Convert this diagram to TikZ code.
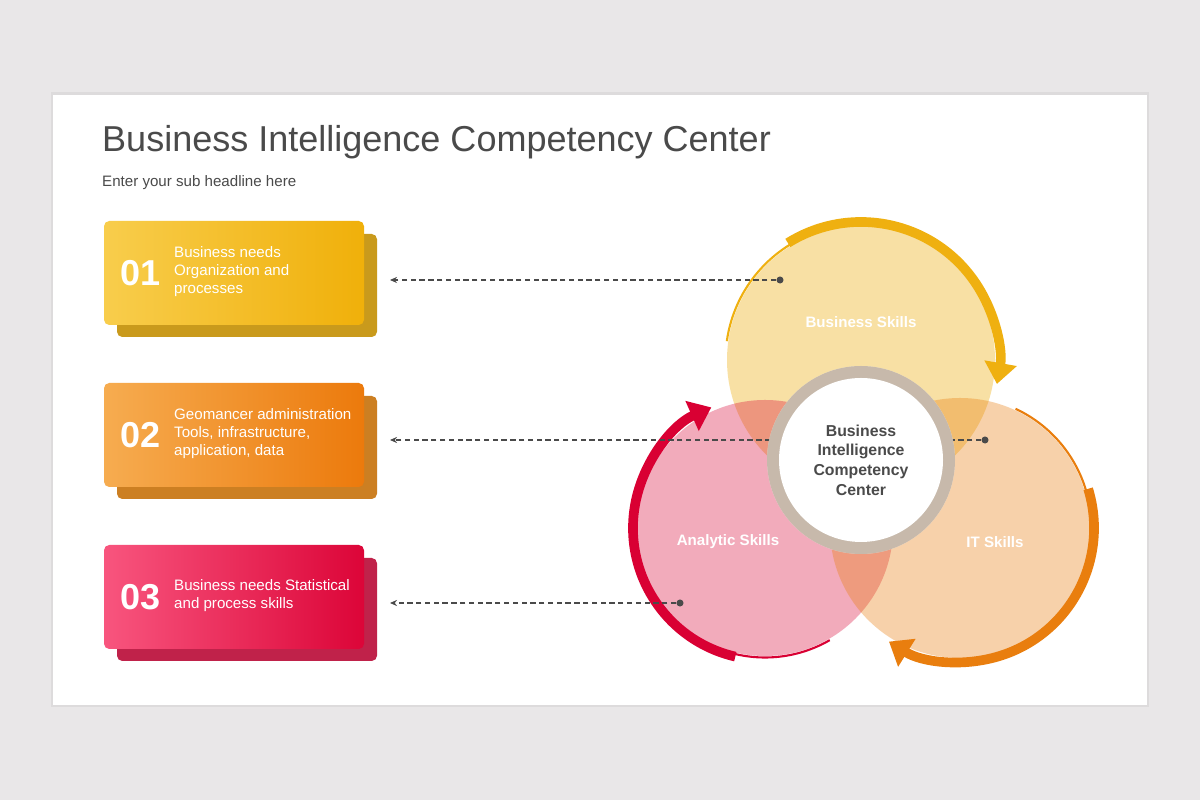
\documentclass[tikz,border=0pt]{standalone}
\usepackage{fontspec}
\setmainfont{Liberation Sans}
\usetikzlibrary{arrows.meta}
\definecolor{bg}{HTML}{E9E7E8}
\definecolor{txt}{HTML}{4A4A4A}
\definecolor{yA}{HTML}{F8CD4C}\definecolor{yB}{HTML}{F0B00A}\definecolor{yS}{HTML}{C99A1C}
\definecolor{oA}{HTML}{F6AC50}\definecolor{oB}{HTML}{EC7A0C}\definecolor{oS}{HTML}{CC7F22}
\definecolor{rA}{HTML}{F8557E}\definecolor{rB}{HTML}{DC0538}\definecolor{rS}{HTML}{C0224A}
\definecolor{yel}{HTML}{EFB010}\definecolor{ora}{HTML}{E97E0E}\definecolor{red}{HTML}{D90033}
\begin{document}
\begin{tikzpicture}[x=0.02cm,y=0.02cm,
  shadowbox/.style={rounded corners=3pt},
  num/.style={text=white,font=\bfseries\fontsize{20.5}{24}\selectfont,anchor=west},
  btxt/.style={text=white,font=\fontsize{8.6}{10.2}\selectfont,anchor=west,align=left},
  clabel/.style={text=white,font=\bfseries\fontsize{8.6}{10}\selectfont},
  dashline/.style={densely dashed,line width=0.7pt,draw=txt,-{Stealth[length=4pt,width=3.5pt]}},
  dotc/.style={fill=txt,circle,inner sep=0pt,minimum size=4pt},
  bigarrow/.style={line width=5.5pt,-{Triangle[width=18pt,length=12pt]}}]
\fill[bg] (0,0) rectangle (1200,800);
\fill[black,opacity=0.05] (51,93) rectangle (1149,708);
\fill[white] (53,95) rectangle (1147,705);
\node[anchor=west,text=txt,font=\fontsize{20.5}{24}\selectfont] (title) at (96,658) {Business Intelligence Competency Center};
\node[anchor=west,text=txt,font=\fontsize{8.6}{10}\selectfont] (sub) at (96,617) {Enter your sub headline here};
% boxes
\foreach \i/\yt/\A/\B/\S in {1/579/yA/yB/yS,2/417/oA/oB/oS,3/255/rA/rB/rS}{
  \fill[\S,shadowbox] (117,\yt-116) rectangle (377,\yt-13);
  \shade[shadowbox,left color=\A,right color=\B] (104,\yt-104) rectangle (364,\yt);
}
\node[num] (n1) at (114,527) {01};
\node[btxt] (t1) at (168,528) {Business needs\\Organization and\\processes};
\node[num] (n2) at (114,365) {02};
\node[btxt] (t2) at (168,366) {Geomancer administration\\Tools, infrastructure,\\application, data};
\node[num] (n3) at (114,203) {03};
\node[btxt] (t3) at (168,204) {Business needs Statistical\\and process skills};
% circles
\fill[yel,fill opacity=0.38] (861,440) circle (134);
\fill[red,fill opacity=0.33] (765,272) circle (128);
\fill[ora,fill opacity=0.35] (960,272) circle (130);
% arrows
\draw[yel,line width=1.2pt] (861,440) ++(172:135.5) arc (172:115:135.5);
\draw[yel,bigarrow] (861,440) ++(122:138) arc (122:-10:138);
\draw[red,line width=1.2pt] (765,272) ++(300:129.5) arc (300:250:129.5);
\draw[red,bigarrow] (765,272) ++(257:132) arc (257:114:132);
\draw[ora,line width=1.2pt] (960,272) ++(65:131.5) arc (65:10:131.5);
\draw[ora,bigarrow] (960,272) ++(17:134) arc (17:-122:134);
% dashed connectors
\node[dotc] (d1) at (780,520) {};
\node[dotc] (d2) at (985,360) {};
\node[dotc] (d3) at (680,197) {};
\coordinate (e1) at (390,520);
\coordinate (e2) at (390,360);
\coordinate (e3) at (390,197);
\draw[dashline] (d1) -- (e1);
\draw[dashline] (d2) -- (e2);
\draw[dashline] (d3) -- (e3);
% center
\fill[white] (861,340) circle (94);
\fill[gray!60!brown,opacity=0.55] (861,340) circle (94);
\node[circle,fill=white,minimum size=164*0.02cm,inner sep=0pt,text=txt,align=center,font=\bfseries\fontsize{9}{11.2}\selectfont] (center) at (861,340) {Business\\Intelligence\\Competency\\Center};
\node[clabel] (bs) at (861,478) {Business Skills};
\node[clabel] (as) at (728,258) {Analytic Skills};
\node[clabel] (it) at (995,258) {IT Skills};
\end{tikzpicture}
\end{document}
